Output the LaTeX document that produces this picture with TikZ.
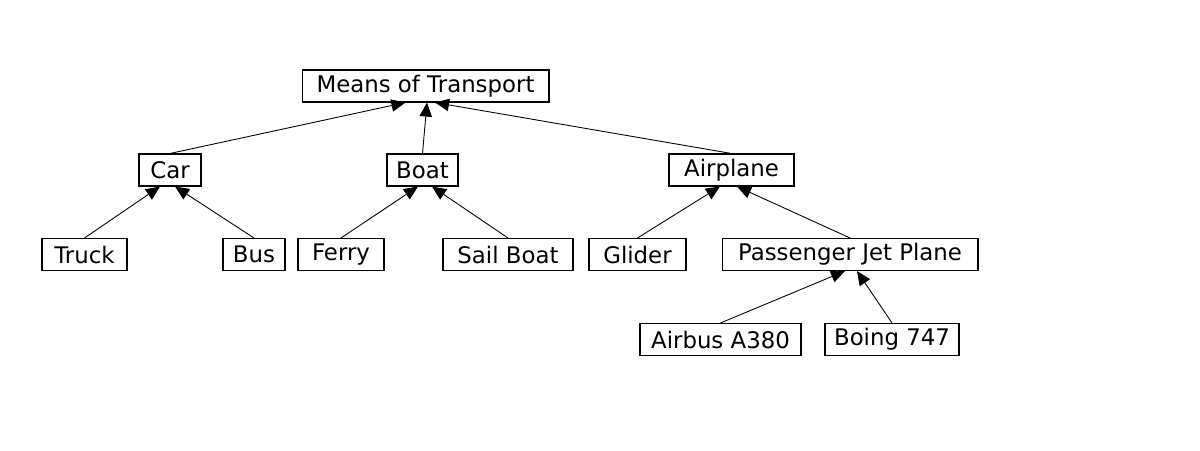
\documentclass[tikz,border=0pt]{standalone}
\usepackage{fontspec}
\setmainfont{DejaVu Sans}
\usetikzlibrary{arrows.meta}
\begin{document}
\begin{tikzpicture}[x=0.02cm,y=-0.02cm,
 box/.style={draw,line width=0.6pt,minimum height=0.64cm,inner sep=0pt,font=\fontsize{13}{15}\selectfont},
 ed/.style={-{Triangle[length=8pt,width=7pt]},line width=0.5pt}]
\useasboundingbox (0,0) rectangle (1200,450);
\node[box,minimum width=4.94cm] (m) at (425.5,86) {Means of Transport};
\node[box,minimum width=1.24cm] (car) at (170,170) {Car};
\node[box,minimum width=1.42cm] (boat) at (422.5,170) {Boat};
\node[box,minimum width=2.5cm] (air) at (731.5,170) {Airplane};
\node[box,minimum width=1.7cm] (truck) at (84.5,254.5) {Truck};
\node[box,minimum width=1.24cm] (bus) at (254,254.5) {Bus};
\node[box,minimum width=1.72cm] (ferry) at (341,254.5) {Ferry};
\node[box,minimum width=2.6cm] (sail) at (508,254.5) {Sail Boat};
\node[box,minimum width=1.94cm] (glider) at (637.5,254.5) {Glider};
\node[box,minimum width=5.12cm] (pjp) at (850,254.5) {Passenger Jet Plane};
\node[box,minimum width=3.22cm] (a380) at (720.5,339.5) {Airbus A380};
\node[box,minimum width=2.68cm] (b747) at (892,339.5) {Boing 747};
\draw[ed] (car.north) -- ([xshift=-0.4cm]m.south);
\draw[ed] (boat.north) -- ([xshift=0.03cm]m.south);
\draw[ed] (air.north) -- ([xshift=0.19cm]m.south);
\draw[ed] (truck.north) -- ([xshift=-0.2cm]car.south);
\draw[ed] (bus.north) -- ([xshift=0.1cm]car.south);
\draw[ed] (ferry.north) -- ([xshift=-0.09cm]boat.south);
\draw[ed] (sail.north) -- ([xshift=0.19cm]boat.south);
\draw[ed] (glider.north) -- ([xshift=-0.23cm]air.south);
\draw[ed] (pjp.north) -- ([xshift=0.11cm]air.south);
\draw[ed] (a380.north) -- ([xshift=-0.1cm]pjp.south);
\draw[ed] (b747.north) -- ([xshift=0.14cm]pjp.south);
\end{tikzpicture}
\end{document}
